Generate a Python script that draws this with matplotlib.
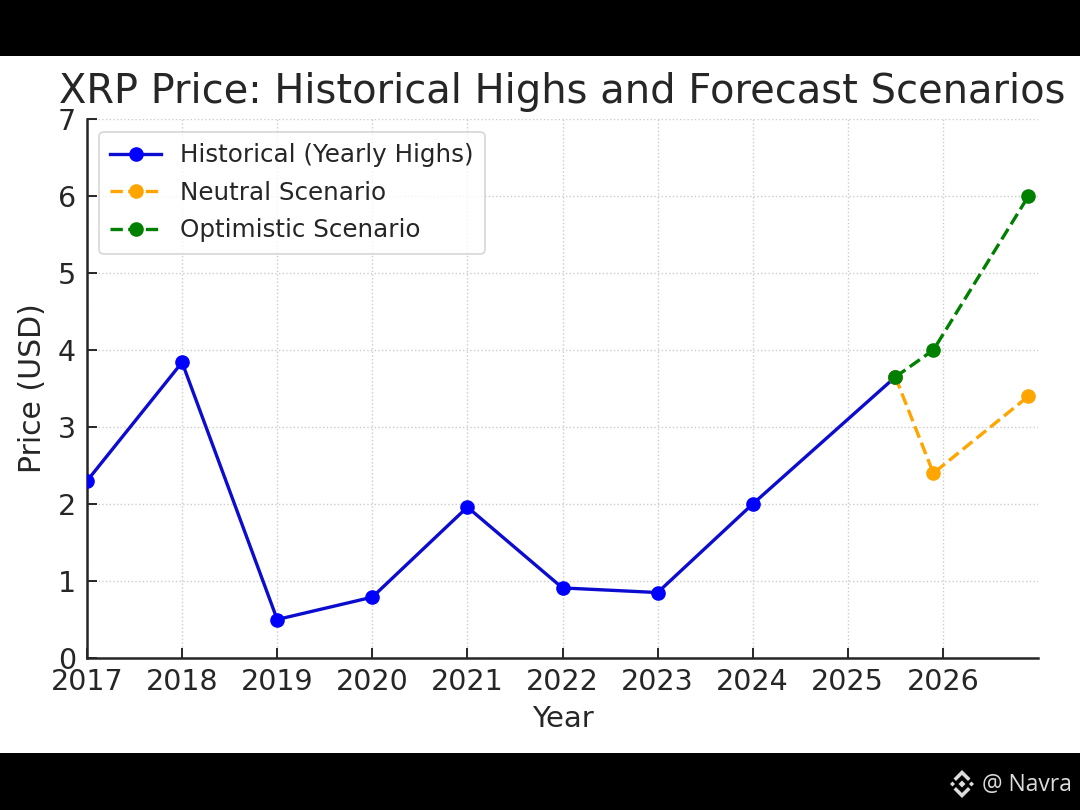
import matplotlib
matplotlib.use("Agg")
import matplotlib.pyplot as plt
from matplotlib.patches import Rectangle, Polygon

# ---- data ----
hist_years = [2017, 2018, 2019, 2020, 2021, 2022, 2023, 2024, 2025.5]
hist_prices = [2.30, 3.84, 0.50, 0.79, 1.96, 0.91, 0.85, 2.00, 3.65]
fc_years = [2025.5, 2025.9, 2026.9]
neutral_prices = [3.65, 2.40, 3.40]
optimistic_prices = [3.65, 4.00, 6.00]
xtick_labels = [2017, 2018, 2019, 2020, 2021, 2022, 2023, 2024, 2025, 2026]
ytick_vals = [0, 1, 2, 3, 4, 5, 6, 7]

plt.rcParams['font.family'] = ['DejaVu Sans']
text_col = '#262626'

fig = plt.figure(figsize=(10.8, 8.1), dpi=100, facecolor='black')
# white panel between black bars
fig.patches.append(Rectangle((0, (810 - 753) / 810), 1, (753 - 56) / 810,
                             transform=fig.transFigure, facecolor='white',
                             edgecolor='none', zorder=-5))

ax = fig.add_axes([87 / 1080, 1 - 658 / 810, (1038 - 87) / 1080, (658 - 119) / 810])
ax.set_facecolor('white')

ax.plot(hist_years, hist_prices, color='#0c0cd0', marker='o', linestyle='-',
        markerfacecolor='#0000ff', markeredgecolor='#0000ff',
        linewidth=2.4, markersize=9.5, label='Historical (Yearly Highs)', zorder=3)
ax.plot(fc_years, neutral_prices, color='orange', marker='o', linestyle='--',
        linewidth=2.4, markersize=9.5, label='Neutral Scenario', zorder=3)
ax.plot(fc_years, optimistic_prices, color='green', marker='o', linestyle='--',
        linewidth=2.4, markersize=9.5, label='Optimistic Scenario', zorder=4)

ax.set_xlim(2017, 2027)
ax.set_ylim(0, 7)
ax.set_xticks(xtick_labels)
ax.set_xticklabels([str(v) for v in xtick_labels])
ax.set_yticks(ytick_vals)

ax.grid(True, linestyle=':', color='#cccccc', linewidth=1.0)
ax.set_axisbelow(True)
for s in ['top', 'right']:
    ax.spines[s].set_visible(False)
for s in ['left', 'bottom']:
    ax.spines[s].set_color(text_col)
    ax.spines[s].set_linewidth(1.8)

ax.tick_params(axis='both', direction='in', length=7, width=1.4, color=text_col,
               labelsize=20.5, labelcolor=text_col)
ax.tick_params(axis='x', pad=7)
ax.tick_params(axis='y', pad=8)

ax.set_xlabel('Year', fontsize=21, color=text_col, labelpad=7)
ax.set_ylabel('Price (USD)', fontsize=21.5, color=text_col, labelpad=8)
ax.set_title('XRP Price: Historical Highs and Forecast Scenarios', fontsize=28.8,
             color=text_col, pad=11.5)

leg = ax.legend(loc='upper left', fontsize=17.7, frameon=True, borderpad=0.45,
                handlelength=2.05, handletextpad=0.8, labelspacing=0.55,
                bbox_to_anchor=(0.0, 0.998))
leg.get_frame().set_edgecolor('#cccccc')
leg.get_frame().set_linewidth(1.2)
for t in leg.get_texts():
    t.set_color(text_col)

# watermark
fig.text(1072 / 1080, 1 - 785 / 810, '@ Navra', color='#dcdcdc', fontsize=16.5,
         ha='right', va='center', family=['Open Sans', 'DejaVu Sans'])
cx, cy = 962, 784
def dia(x, y, s):
    pts = [(x, y - s), (x + s, y), (x, y + s), (x - s, y)]
    return Polygon([(px / 1080, 1 - py / 810) for px, py in pts], closed=True,
                   transform=fig.transFigure, facecolor='#dcdcdc', edgecolor='none')
fig.patches.append(dia(cx, cy, 3.5))
fig.patches.append(dia(cx - 9.5, cy, 2.5))
fig.patches.append(dia(cx + 9.5, cy, 2.5))
for sgn in (-1, 1):
    pts = [(cx, cy + sgn * 14), (cx - 8.5, cy + sgn * 5.5), (cx - 6, cy + sgn * 3),
           (cx, cy + sgn * 9), (cx + 6, cy + sgn * 3), (cx + 8.5, cy + sgn * 5.5)]
    fig.patches.append(Polygon([(px / 1080, 1 - py / 810) for px, py in pts], closed=True,
                               transform=fig.transFigure, facecolor='#dcdcdc',
                               edgecolor='none'))

fig.savefig('out.png', dpi=100, facecolor='black')
